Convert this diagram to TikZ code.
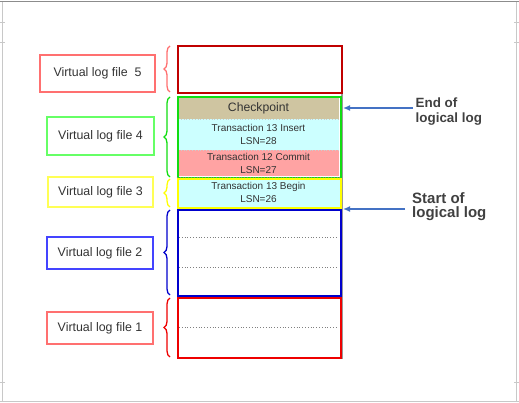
\documentclass[tikz,border=0pt]{standalone}
\usepackage{fontspec}
\setmainfont{Liberation Sans}
\usetikzlibrary{decorations.pathreplacing,arrows.meta}
\definecolor{darkred}{HTML}{C00000}
\definecolor{colgreen}{HTML}{11DD11}
\definecolor{lblgreen}{HTML}{66FF66}
\definecolor{colyellow}{HTML}{FFFF00}
\definecolor{lblyellow}{HTML}{FFFF55}
\definecolor{colblue}{HTML}{0000CC}
\definecolor{lblblue}{HTML}{4444FF}
\definecolor{colred}{HTML}{EE0000}
\definecolor{lblred}{HTML}{FF7070}
\definecolor{tanfill}{HTML}{CFC5A1}
\definecolor{cyanfill}{HTML}{CCFFFF}
\definecolor{pinkfill}{HTML}{FFA3A3}
\definecolor{arrowblue}{HTML}{4472C4}
\definecolor{framegray}{HTML}{C8C8C8}
\begin{document}
\begin{tikzpicture}[x=1pt,y=-1pt,
  lbl/.style={draw, line width=1.3pt, minimum width=106pt, minimum height=32pt, inner sep=0pt,
    font=\fontsize{12.4}{14}\selectfont, text=black!80},
  colbox/.style={line width=2pt},
  sep/.style={gray, dotted, line width=0.8pt},
  bracestyle/.style={decorate, decoration={brace, amplitude=6pt}, line width=1.3pt},
  band/.style={font=\fontsize{10}{13}\selectfont, align=center, text=black!80},
  arr/.style={arrowblue, line width=1.8pt, -{Latex[length=7pt,width=6pt]}},
  side/.style={font=\bfseries\fontsize{13.4}{15}\selectfont, align=left, anchor=north west, inner sep=0pt, text=black!75}
]
\useasboundingbox (0,0) rectangle (519,403);
% frame
\draw[framegray, line width=1pt] (2,2) -- (2,402) (516.5,2) -- (516.5,402) (0,401.5) -- (519,401.5);
\draw[gray!90, line width=1pt] (0,2) -- (519,2);
\foreach \yy in {22,42,382}{
  \draw[framegray, line width=0.8pt] (0,\yy) -- (5,\yy) (514,\yy) -- (519,\yy);
}
% column shadow (right and bottom edges)
\draw[gray!80, line width=1.5pt] (342,94) -- (342,358.5) -- (179,358.5);
% VLF5
\node[colbox, draw=darkred, fill=white, minimum width=164pt, minimum height=47pt, anchor=north west, inner sep=0pt] (c5) at (177,45) {};
% VLF4 bands
\fill[tanfill] (178,97) rectangle (339,119);
\fill[cyanfill] (178,119) rectangle (339,150);
\fill[pinkfill] (178,150) rectangle (339,176.5);
\draw[sep, white!60!gray] (178,119) -- (339,119);
\draw[sep, white!60!gray] (178,150) -- (339,150);
\node[font=\fontsize{12.2}{14}\selectfont, text=black!80] (cp) at (258.5,108) {Checkpoint};
\node[band] (t13i) at (258.5,134.5) {Transaction 13 Insert\\LSN=28};
\node[band] (t12c) at (258.5,163.5) {Transaction 12 Commit\\LSN=27};
\node[colbox, draw=colgreen, minimum width=163pt, minimum height=81pt, anchor=north west, inner sep=0pt] (c4) at (177,96) {};
% VLF3
\node[colbox, draw=colyellow, fill=cyanfill, minimum width=163pt, minimum height=29pt, anchor=north west, inner sep=0pt] (c3) at (177,178) {};
\node[band] (t13b) at (258.5,192.5) {Transaction 13 Begin\\LSN=26};
\draw[sep] (177,177.5) -- (340,177.5);
% VLF2
\node[colbox, draw=colblue, minimum width=163pt, minimum height=86pt, anchor=north west, inner sep=0pt] (c2) at (177,209) {};
\draw[sep] (179,237) -- (338,237);
\draw[sep] (179,267) -- (338,267);
% VLF1
\node[colbox, draw=colred, minimum width=163pt, minimum height=60pt, anchor=north west, inner sep=0pt] (c1) at (177,297) {};
\draw[sep] (179,327) -- (338,327);
% labels
\node[lbl, draw=lblred, minimum width=115pt, minimum height=37pt] (l5) at (97.5,73.5) {Virtual log file \ 5};
\node[lbl, draw=lblgreen, minimum width=107pt, minimum height=38pt] (l4) at (100.5,136) {Virtual log file 4};
\node[lbl, draw=lblyellow, minimum width=105pt, minimum height=30pt] (l3) at (100.5,192) {Virtual log file 3};
\node[lbl, draw=lblblue] (l2) at (100,253) {Virtual log file 2};
\node[lbl, draw=lblred] (l1) at (100,328) {Virtual log file 1};
% braces
\draw[bracestyle, lblred] (170,92) -- (170,46);
\draw[bracestyle, colgreen] (170,177) -- (170,97);
\draw[bracestyle, colyellow] (170,207) -- (170,179);
\draw[bracestyle, colblue] (170,295) -- (170,210);
\draw[bracestyle, colred] (170,357) -- (170,298);
% side texts and arrows
\node[side] (endt) at (415.5,97.5) {End of\\logical log};
\node[side, font=\bfseries\fontsize{15}{14.5}\selectfont] (startt) at (412,192) {Start of\\logical log};
\coordinate (endp) at (343,108);
\coordinate (startp) at (343,209);
\coordinate (endtail) at (413,108);
\coordinate (starttail) at (405,209);
\draw[arr] (endtail) -- (endp);
\draw[arr] (starttail) -- (startp);
\end{tikzpicture}
\end{document}
